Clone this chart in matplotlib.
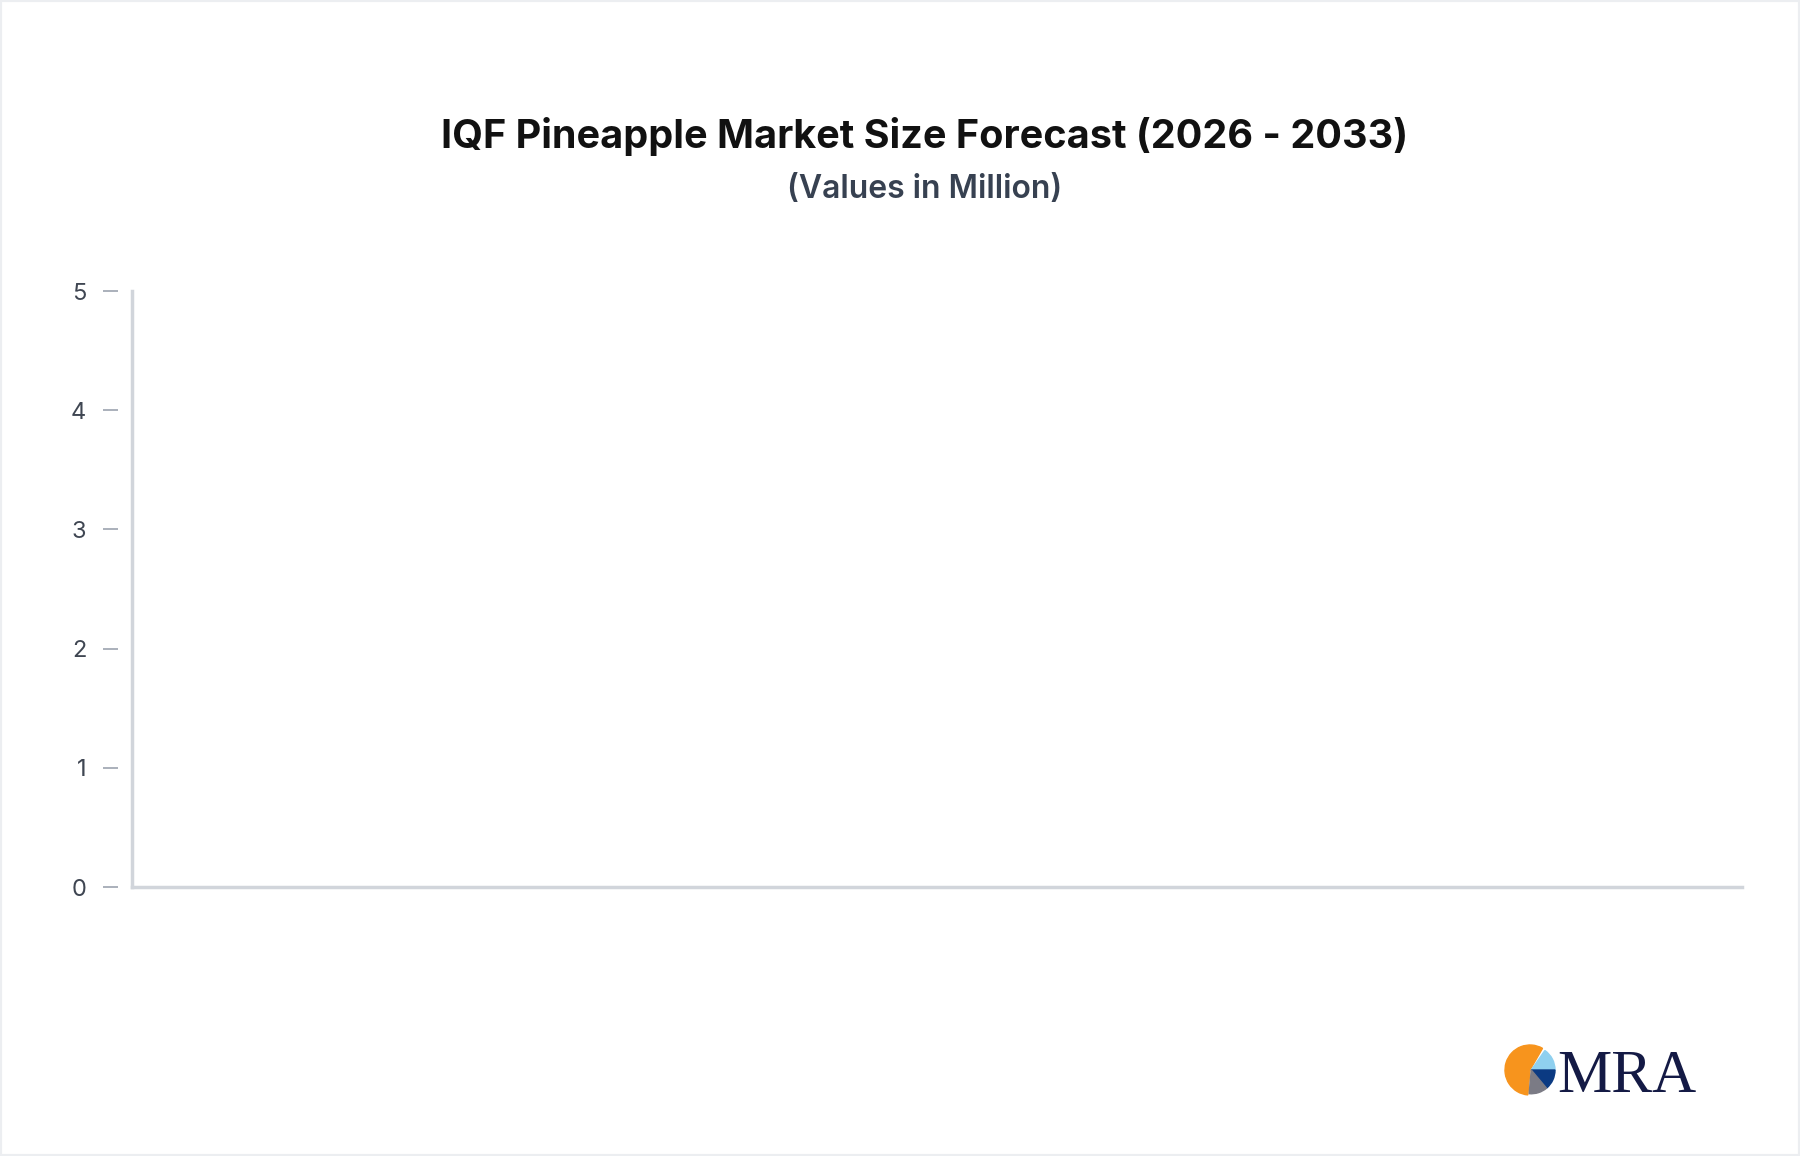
import matplotlib
matplotlib.use("Agg")
import matplotlib.pyplot as plt
from matplotlib.patches import Wedge, Rectangle

# Data (the reference chart shows an empty plot area)
years = []
values = []
y_ticks = [0, 1, 2, 3, 4, 5]
title = "IQF Pineapple Market Size Forecast (2026 - 2033)"
subtitle = "(Values in Million)"

plt.rcParams['font.family'] = ['Inter', 'DejaVu Sans']

fig = plt.figure(figsize=(18, 11.56), dpi=100)
fig.patch.set_facecolor('white')

# subtle figure border
fig.add_artist(Rectangle((0, 0), 1, 1, transform=fig.transFigure, fill=False,
                         edgecolor='#eceef1', linewidth=3))

ax = fig.add_axes([132/1800, 1-887/1156, (1742-132)/1800, (887-291)/1156])
ax.bar(years, values, color='#1f77b4')
ax.set_ylim(0, 5)
ax.set_xlim(0, 1)
ax.set_yticks(y_ticks)
ax.set_yticklabels([str(t) for t in y_ticks])
ax.set_xticks([])

for s in ['top', 'right']:
    ax.spines[s].set_visible(False)
ax.spines['left'].set_position(('outward', 10))
ax.spines['left'].set_visible(False)
ax.spines['bottom'].set_color('#d1d5db')
ax.spines['bottom'].set_linewidth(2.5)
ax.axvline(0, color='#d1d5db', linewidth=2.5, clip_on=False)

ax.tick_params(axis='y', length=11, width=1.2, color='#9ca3af', pad=12,
               labelsize=17, labelcolor='#3f4652')

fig.text(925/1800, 1-137/1156, title, ha='center', va='center',
         fontsize=28.5, fontweight='bold', color='#111111')
fig.text(925/1800, 1-189/1156, subtitle, ha='center', va='center',
         fontsize=23, fontweight='semibold', color='#374151')

# logo
lax = fig.add_axes([1495/1800, 1-1105/1156, 70/1800, 70/1156])
lax.set_xlim(-1.4, 1.4)
lax.set_ylim(-1.4, 1.4)
lax.set_aspect('equal')
lax.axis('off')
c = (0.05, 0.0)
lax.add_patch(Wedge((0, 0), 1.0, 60, 265, color='#f7941d'))
lax.add_patch(Wedge(c, 0.95, 0, 55, color='#8fd0ef'))
lax.add_patch(Wedge(c, 0.95, -50, 0, color='#0b3a82'))
lax.add_patch(Wedge(c, 0.95, -95, -50, color='#7b7b85'))
fig.text(1557/1800, 1-1092/1156, "MRA", ha='left', va='baseline',
         fontsize=44, family=['Liberation Serif', 'DejaVu Serif'], color='#141a45')

fig.savefig('out.png', dpi=100)
